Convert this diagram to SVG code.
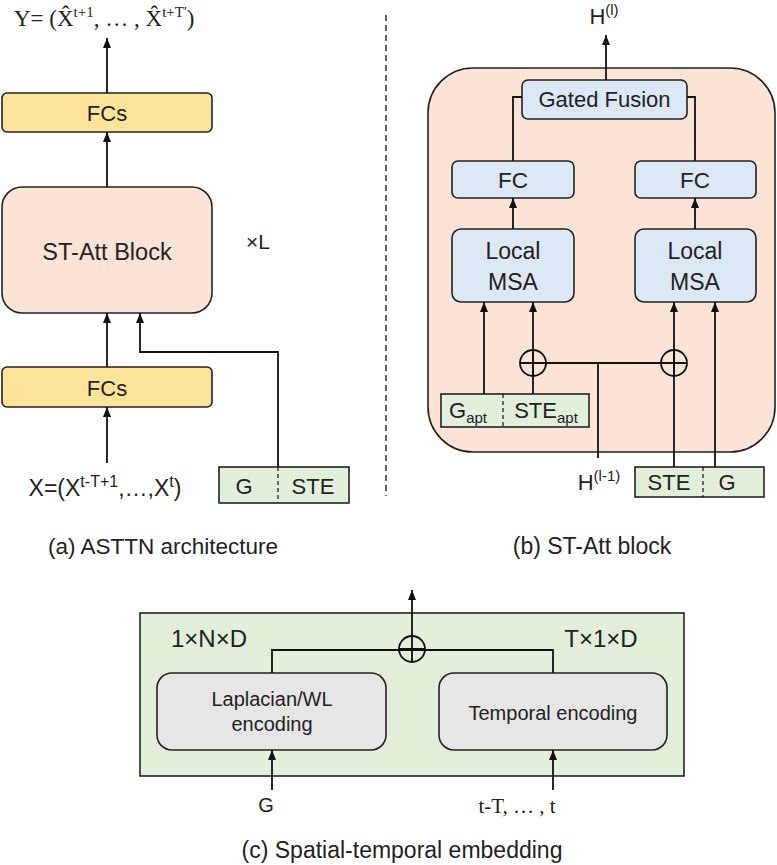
<svg xmlns="http://www.w3.org/2000/svg" width="777" height="865" viewBox="0 0 777 865">
<style>
.box{stroke:#222;stroke-width:1.6}
.yel{fill:#fde49a}
.sal{fill:#fbe3d6}
.blu{fill:#dce8f5}
.grn{fill:#e2efda}
.gry{fill:#e6e6e6}
.ln{fill:none;stroke:#111;stroke-width:1.8}
.arr{fill:none;stroke:#111;stroke-width:1.8;marker-end:url(#ah)}
.dash{fill:none;stroke:#222;stroke-width:1.3;stroke-dasharray:4 3}
.t{font-family:"Liberation Sans",Arial,sans-serif;fill:#222;text-anchor:middle}
.s{font-family:"Liberation Serif","Times New Roman",serif;fill:#222}
.plus{fill:none;stroke:#111;stroke-width:1.8}
</style>
<defs>
<marker id="ah" viewBox="0 0 10 8" refX="10" refY="4" markerWidth="10" markerHeight="8" markerUnits="userSpaceOnUse" orient="auto">
<path d="M0,0 L10,4 L0,8 z" fill="#111"/>
</marker>
</defs>
<rect width="777" height="865" fill="#fff"/>

<!-- (a) ASTTN architecture -->
<g id="output-label">
<text class="s" x="14" y="26" font-size="23">Y= (X&#x302;<tspan dy="-9" font-size="15">t+1</tspan><tspan dy="9">, … , X&#x302;</tspan><tspan dy="-9" font-size="15">t+T'</tspan><tspan dy="9">)</tspan></text>
</g>
<g id="fcs-top">
<rect class="box yel" x="2" y="93" width="210" height="39" rx="5"/>
<text class="t" x="107" y="121" font-size="22">FCs</text>
</g>
<g id="st-att-block">
<rect class="box sal" x="2" y="187" width="210" height="126" rx="20"/>
<text class="t" x="107" y="260" font-size="23.5">ST-Att Block</text>
</g>
<g id="times-L">
<text class="t" x="258" y="249" font-size="21">×L</text>
</g>
<g id="fcs-bottom">
<rect class="box yel" x="2" y="367" width="210" height="40" rx="5"/>
<text class="t" x="107" y="396" font-size="22">FCs</text>
</g>
<g id="input-label">
<text class="t" x="105" y="496" font-size="23">X=(X<tspan dy="-9" font-size="16">t-T+1</tspan><tspan dy="9">,…,X</tspan><tspan dy="-9" font-size="16">t</tspan><tspan dy="9">)</tspan></text>
</g>
<g id="g-ste-a">
<rect class="box grn" x="219" y="467" width="130" height="36"/>
<line class="dash" x1="278" y1="467" x2="278" y2="503"/>
<text class="t" x="244" y="494" font-size="22">G</text>
<text class="t" x="313" y="494" font-size="22">STE</text>
</g>
<g id="caption-a">
<text class="t" x="163" y="554" font-size="22.5">(a) ASTTN architecture</text>
</g>

<g id="separator">
<line x1="386" y1="15" x2="386" y2="496" stroke="#222" stroke-width="1.4" stroke-dasharray="6 4"/>
</g>

<!-- (b) ST-Att block -->
<g id="h-l-label">
<text class="t" x="604" y="24" font-size="22">H<tspan dy="-9" font-size="15">(l)</tspan></text>
</g>
<g id="st-att-outer">
<rect class="box sal" x="428" y="68" width="347" height="384" rx="45"/>
</g>
<g id="gated-fusion">
<rect class="box blu" x="522" y="80" width="165" height="39" rx="6"/>
<text class="t" x="604.5" y="107" font-size="22">Gated Fusion</text>
</g>
<g id="fc-left">
<rect class="box blu" x="452" y="161" width="122" height="37" rx="6"/>
<text class="t" x="513" y="188" font-size="22.5">FC</text>
</g>
<g id="fc-right">
<rect class="box blu" x="635" y="161" width="121" height="37" rx="6"/>
<text class="t" x="695" y="188" font-size="22.5">FC</text>
</g>
<g id="msa-left">
<rect class="box blu" x="452" y="229" width="122" height="73" rx="9"/>
<text class="t" x="513" y="259" font-size="23">Local</text>
<text class="t" x="513" y="290" font-size="23">MSA</text>
</g>
<g id="msa-right">
<rect class="box blu" x="635" y="229" width="121" height="73" rx="9"/>
<text class="t" x="695" y="259" font-size="23">Local</text>
<text class="t" x="695" y="290" font-size="23">MSA</text>
</g>
<g id="g-ste-apt">
<rect class="box grn" x="441" y="394" width="148" height="33"/>
<line class="dash" x1="503" y1="394" x2="503" y2="427"/>
<text class="t" x="468" y="418" font-size="22">G<tspan dy="5" font-size="15">apt</tspan></text>
<text class="t" x="546" y="418" font-size="22">STE<tspan dy="5" font-size="15">apt</tspan></text>
</g>
<g id="ste-g-b">
<rect class="box grn" x="635" y="467" width="129" height="30"/>
<line class="dash" x1="703" y1="467" x2="703" y2="497"/>
<text class="t" x="669" y="490" font-size="22">STE</text>
<text class="t" x="727" y="490" font-size="22">G</text>
</g>
<g id="h-l-1-label">
<text class="t" x="599" y="490" font-size="22">H<tspan dy="-9" font-size="15">(l-1)</tspan></text>
</g>
<g id="plus-left">
<circle class="plus" cx="533" cy="363" r="13"/>
<path class="plus" d="M520,363 H546 M533,350 V376"/>
</g>
<g id="plus-right">
<circle class="plus" cx="674" cy="363" r="13"/>
<path class="plus" d="M661,363 H687 M674,350 V376"/>
</g>
<g id="caption-b">
<text class="t" x="592" y="554" font-size="23">(b) ST-Att block</text>
</g>

<!-- (c) Spatial-temporal embedding -->
<g id="ste-outer">
<rect class="box grn" x="140" y="613" width="544" height="163"/>
<text class="t" x="209" y="647" font-size="24">1×N×D</text>
<text class="t" x="601" y="647" font-size="24">T×1×D</text>
</g>
<g id="laplacian">
<rect class="box gry" x="157" y="673" width="229" height="77" rx="15"/>
<text class="t" x="272" y="706" font-size="20">Laplacian/WL</text>
<text class="t" x="272" y="731" font-size="20">encoding</text>
</g>
<g id="temporal">
<rect class="box gry" x="439" y="673" width="228" height="77" rx="15"/>
<text class="t" x="553" y="720" font-size="20">Temporal encoding</text>
</g>
<g id="plus-c">
<circle class="plus" cx="412" cy="649" r="13"/>
<path class="plus" d="M399,649 H425 M412,636 V662"/>
</g>
<g id="g-input-c">
<text class="t" x="266" y="812" font-size="20">G</text>
</g>
<g id="t-input-c">
<text class="s" x="517" y="813" font-size="21" text-anchor="middle">t-T, … , t</text>
</g>
<g id="caption-c">
<text class="t" x="402" y="858" font-size="23">(c) Spatial-temporal embedding</text>
</g>

<g id="connectors">
<!-- (a) -->
<line class="arr" x1="107" y1="93" x2="107" y2="38"/>
<line class="arr" x1="107" y1="187" x2="107" y2="132"/>
<line class="arr" x1="107" y1="367" x2="107" y2="313"/>
<path class="arr" d="M278,467 V352 H140 V313"/>
<line class="arr" x1="107" y1="463" x2="107" y2="407"/>
<!-- (b) -->
<line class="arr" x1="606" y1="80" x2="606" y2="35"/>
<path class="ln" d="M513,161 V97 H522"/>
<path class="ln" d="M695,161 V97 H687"/>
<line class="arr" x1="513" y1="229" x2="513" y2="198"/>
<line class="arr" x1="695" y1="229" x2="695" y2="198"/>
<line class="arr" x1="484" y1="394" x2="484" y2="302"/>
<line class="arr" x1="533" y1="394" x2="533" y2="302"/>
<line class="ln" x1="533" y1="363" x2="674" y2="363"/>
<line class="ln" x1="598" y1="363" x2="598" y2="458"/>
<line class="arr" x1="674" y1="467" x2="674" y2="302"/>
<line class="arr" x1="715" y1="467" x2="715" y2="302"/>
<!-- (c) -->
<line class="arr" x1="412" y1="636" x2="412" y2="590"/>
<path class="ln" d="M272,673 V650 H553 V673"/>
<line class="arr" x1="272" y1="790" x2="272" y2="750"/>
<line class="arr" x1="553" y1="790" x2="553" y2="750"/>
</g>
</svg>
